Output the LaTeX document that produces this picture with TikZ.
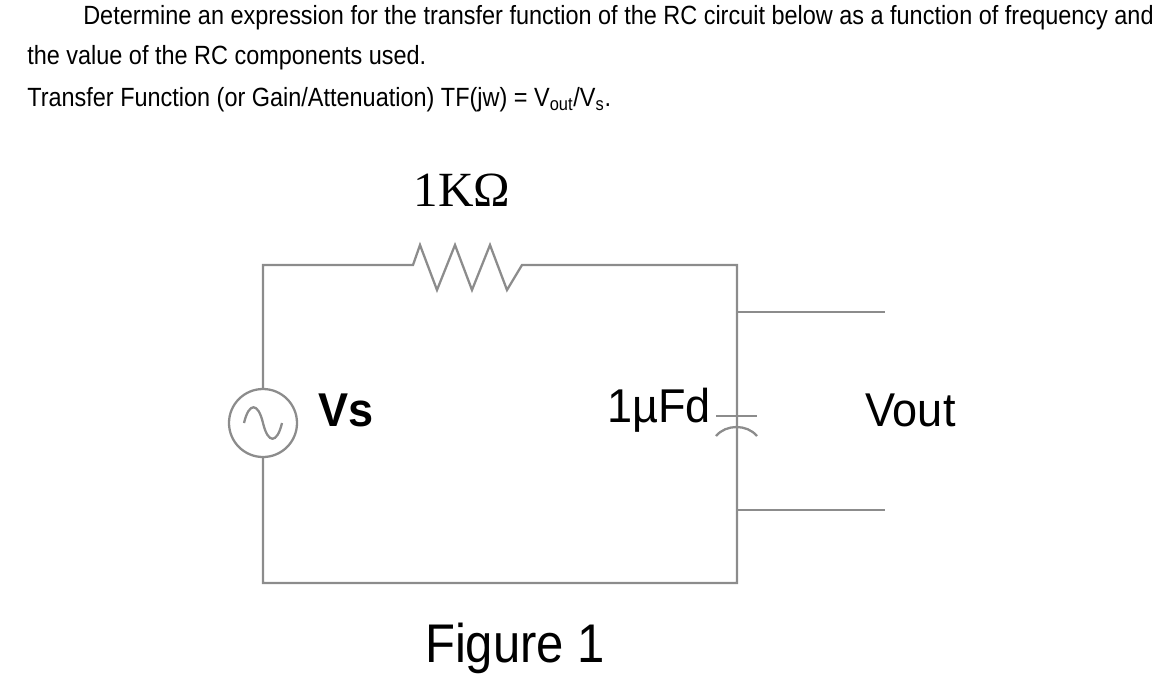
\documentclass[tikz,border=0pt]{standalone}
\usepackage{fontspec}
\setmainfont{Liberation Sans}
\newfontfamily\serifb{Liberation Serif}
\begin{document}
\begin{tikzpicture}[x=0.02cm,y=-0.02cm,
  wire/.style={draw=black!45,line width=1.3pt},
  hdr/.style={anchor=west,inner sep=0,font=\fontsize{15}{18}\selectfont,xscale=0.89,transform shape},
  lbl/.style={inner sep=0}]
\useasboundingbox (0,0) rectangle (1173,687);
\node[hdr] (h1) at (83,18) {Determine an expression for the transfer function of the RC circuit below as a function of frequency and};
\node[hdr] (h2) at (27,58) {the value of the RC components used.};
\node[hdr] (h3) at (27,100) {Transfer Function (or Gain/Attenuation) TF(jw) = V\textsubscript{out}/V\textsubscript{s}.};
% nodes
\coordinate (tl) at (263,265);
\coordinate (bl) at (263,583);
\coordinate (tr) at (737,265);
\coordinate (br) at (737,583);
\coordinate (r1) at (413,265);
\coordinate (r2) at (522,265);
\node[draw=black!45,line width=1.3pt,circle,minimum size=68*0.02cm,inner sep=0] (src) at (263,423) {};
\coordinate (o1) at (737,312);
\coordinate (o1e) at (885,312);
\coordinate (o2) at (737,510);
\coordinate (o2e) at (885,510);
\path[wire] (src.north) -- (tl) -- (r1)
  -- (420,245) -- (437,290) -- (455,245) -- (472,290) -- (490,245) -- (507,290) -- (r2)
  -- (tr) -- (br) -- (bl) -- (src.south);
\path[wire] (o1) -- (o1e);
\path[wire] (o2) -- (o2e);
\path[wire] (244,423) .. controls (249,402) and (258,402) .. (263,423) .. controls (268,444) and (277,444) .. (282,423);
% capacitor
\path[wire] (716,416) -- (757,416);
\path[wire] (716,436) .. controls (726,424) and (747,424) .. (757,436);
\node[lbl,font=\serifb\fontsize{28}{32}\selectfont] (R) at (462,190) {1KΩ};
\node[lbl,font=\bfseries\fontsize{27}{30}\selectfont,anchor=west,xscale=0.95,transform shape] (vs) at (318,410) {Vs};
\node[lbl,font=\fontsize{27}{30}\selectfont,anchor=east,xscale=0.95,transform shape] (cap) at (711,410) {1µFd};
\node[lbl,font=\fontsize{27}{30}\selectfont,anchor=west,xscale=0.95,transform shape] (vo) at (865,410) {Vout};
\node[lbl,font=\fontsize{31}{34}\selectfont,xscale=0.9,transform shape] (fig) at (515,648) {Figure 1};
\end{tikzpicture}
\end{document}
